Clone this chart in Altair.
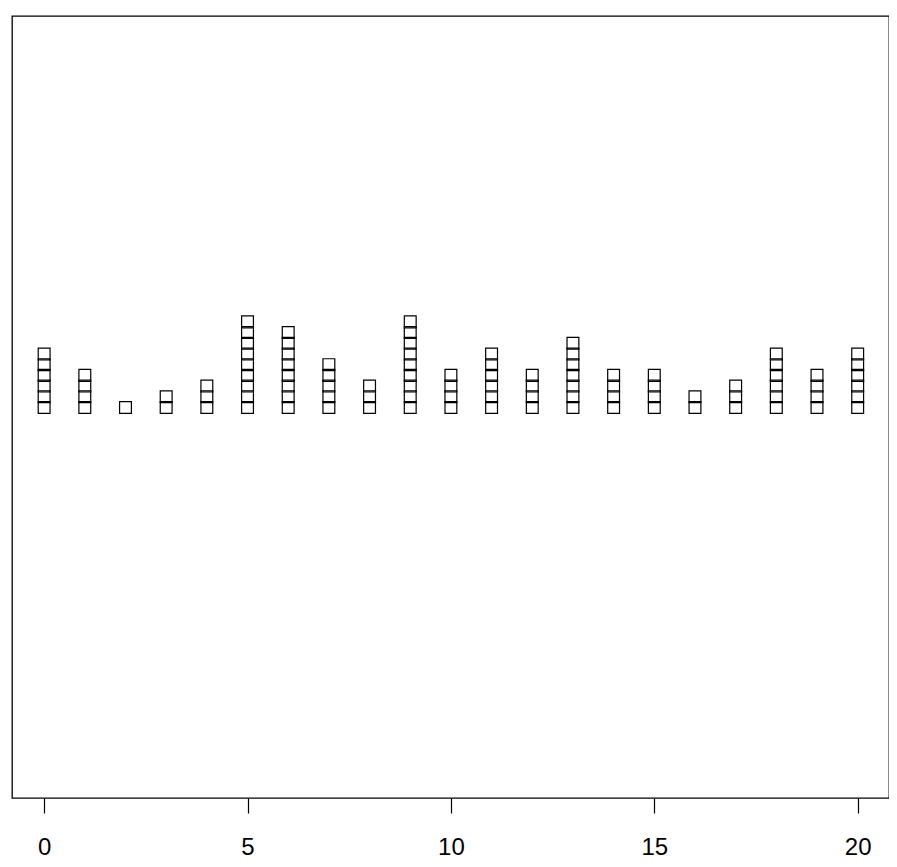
import altair as alt
import pandas as pd

values = list(range(21))
counts = [6, 4, 1, 2, 3, 9, 8, 5, 3, 9, 4, 6, 4, 7, 4, 4, 2, 3, 6, 4, 6]
x_ticks = [0, 5, 10, 15, 20]

obs = []
for v, c in zip(values, counts):
    obs.extend([v] * c)
df = pd.DataFrame({"x": obs})

chart = (
    alt.Chart(df)
    .transform_window(rn="row_number()", groupby=["x"])
    .transform_calculate(idx="datum.rn - 1")
    .mark_point(shape="square", filled=False, size=140, stroke="black",
                strokeWidth=1.2, opacity=1)
    .encode(
        x=alt.X("x:Q",
                scale=alt.Scale(domain=[-0.79, 20.77], nice=False, zero=False),
                axis=alt.Axis(values=x_ticks, title=None, grid=False, domain=False,
                              tickSize=15, tickColor="black", tickWidth=1.2,
                              labelFontSize=24, labelFont="Liberation Sans",
                              labelColor="black", labelPadding=22, format="d")),
        y=alt.Y("idx:Q",
                scale=alt.Scale(domain=[-36.5, 36.59], nice=False, zero=False),
                axis=None),
    )
    .properties(width=877, height=782,
                padding={"left": 4, "top": 8, "right": 0, "bottom": 61},
                autosize=alt.AutoSizeParams(type="none"))
    .configure_view(stroke="black", strokeWidth=1.3)
)

chart.save("out.html", embed_options={"renderer": "svg", "actions": False})
